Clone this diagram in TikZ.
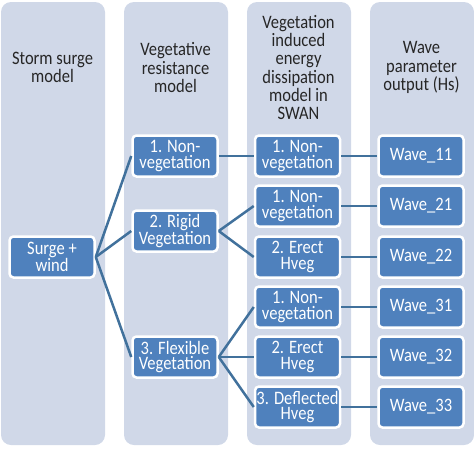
\documentclass[tikz,border=0pt]{standalone}
\usepackage{fontspec}
\setmainfont{Carlito}[FakeStretch=0.87]
\definecolor{colbg}{HTML}{D0D8E8}
\definecolor{boxblue}{HTML}{4F81BD}
\definecolor{linkblue}{HTML}{41719C}

\begin{document}
\begin{tikzpicture}[x=1pt, y=-1pt,
	column/.style={fill=colbg, rounded corners=10pt},
	head/.style={align=center, text=black!85, font=\fontsize{19}{18.3}\selectfont},
	box/.style={draw=white, line width=2.5pt, fill=boxblue, rounded corners=4pt,
		minimum width=85pt, minimum height=41pt, inner sep=1pt, align=center,
		text=white, font=\fontsize{19}{15.7}\selectfont},
	link/.style={draw=linkblue, line width=2.5pt}]

	\useasboundingbox (0, 0) rectangle (474, 448);

	\def\pitch{123} % distance entre deux colonnes

	\foreach \i in {0, ..., 3} {
		\fill[column] (\i*\pitch+1, 2) rectangle ++(104, 443);
	}

	\node[head] (hstorm) at (52.5, 67.5) {Storm surge\\model};
	\node[head] (hres) at (175.5, 67.5) {Vegetative\\resistance\\model};
	\node[head] (hswan) at (298.5, 67.5) {Vegetation\\induced\\energy\\dissipation\\model in\\SWAN};
	\node[head] (hwave) at (421.5, 67.5) {Wave\\parameter\\output (Hs)};

	\node[box] (surge) at (52, 257) {Surge +\\wind};
	\node[box] (res1) at (175, 156) {1. Non-\\vegetation};
	\node[box] (res2) at (175, 231) {2. Rigid\\Vegetation};
	\node[box] (res3) at (175, 357) {3. Flexible\\Vegetation};

	\foreach \r/\y/\t in {11/156/{1. Non-\\vegetation}, 21/206/{1. Non-\\vegetation},
		22/257/{2. Erect\\Hveg}, 31/307/{1. Non-\\vegetation},
		32/357/{2. Erect\\Hveg}, 33/407/{3. Deflected\\Hveg}} {
		\node[box] (swan\r) at (297.5, \y) {\t};
		\node[box] (wave\r) at (421, \y) {Wave\_\r};
		\draw[link] (swan\r.east) -- (wave\r.west);
	}

	\foreach \a/\b in {surge/res1, surge/res2, surge/res3, res1/swan11, res2/swan21,
		res2/swan22, res3/swan31, res3/swan32, res3/swan33} {
		\draw[link] (\a.east) -- (\b.west);
	}

\end{tikzpicture}
\end{document}
